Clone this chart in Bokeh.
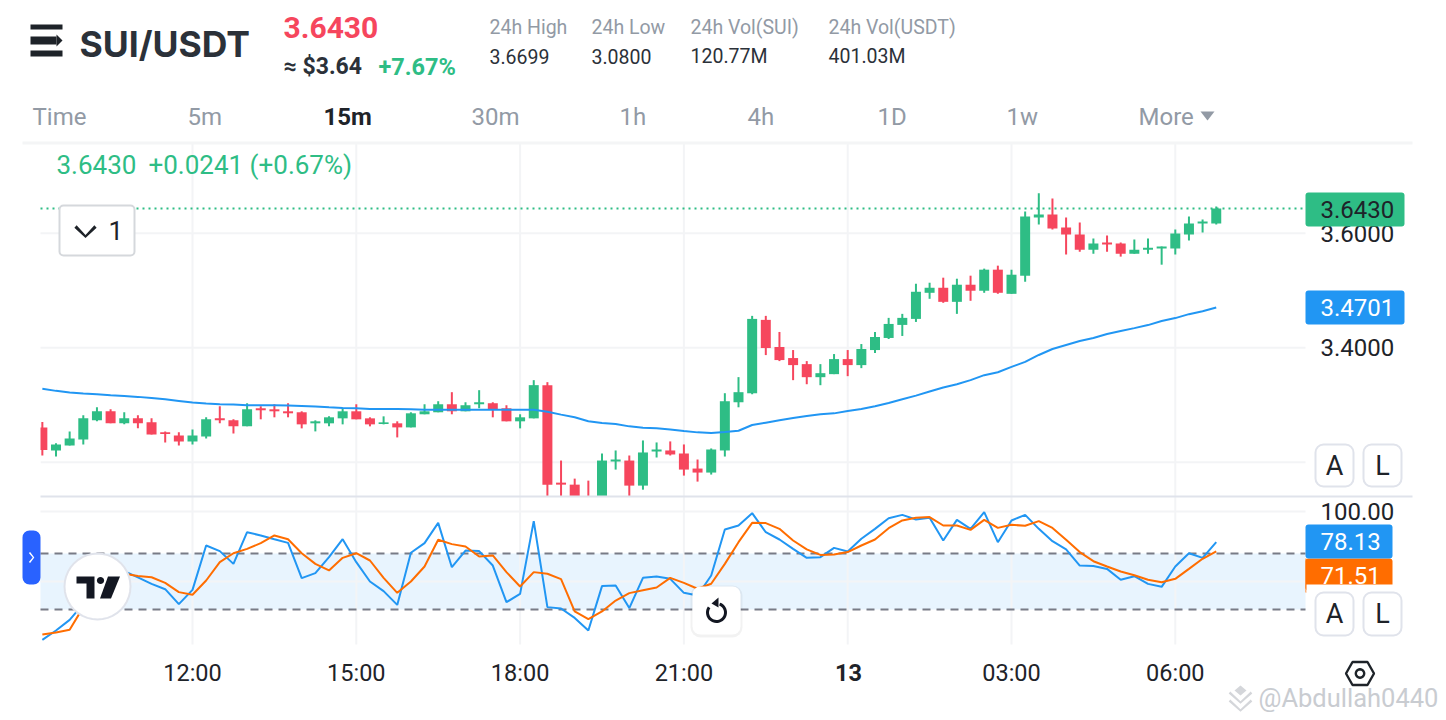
import math
import numpy as np
from bokeh.embed import file_html
from bokeh.resources import INLINE
from bokeh.plotting import figure
from bokeh.models import (BoxAnnotation, ColumnDataSource, FixedTicker, Label,
                          LinearAxis, NumeralTickFormatter, PolyAnnotation, Range1d)

symbol = "SUI/USDT"
last_price = 3.6430
ma_last = 3.4701
k_last = 78.13
d_last = 71.51

opens = [3.2608,3.2205,3.2293,3.2398,3.2731,3.2889,3.2679,3.2766,3.2696,3.2521,3.2468,3.2363,3.2450,3.2766,3.2731,3.2626,3.2942,3.2924,3.2889,3.2872,
         3.2679,3.2679,3.2766,3.2889,3.2766,3.2667,3.2679,3.2608,3.2837,3.2872,3.3012,3.2889,3.3012,3.3030,3.2942,3.2714,3.2766,3.3346,3.1643,3.1608,
         3.1357,3.1269,3.2012,3.2029,3.1591,3.2187,3.2205,3.2152,3.1889,3.1819,3.2205,3.3047,3.3204,3.4486,3.4012,3.3819,3.3713,3.3485,3.3538,3.3801,
         3.3696,3.3959,3.4170,3.4398,3.4503,3.4959,3.5047,3.4801,3.5100,3.4995,3.5363,3.4941,3.5257,3.6275,3.6328,3.6099,3.5977,3.5713,3.5836,3.5819,
         3.5643,3.5713,3.5731,3.5731,3.5977,3.6170,3.6170]
highs = [3.2702,3.2333,3.2538,3.2819,3.2959,3.2924,3.2872,3.2819,3.2766,3.2538,3.2521,3.2573,3.2784,3.2977,3.2749,3.3030,3.2977,3.3012,3.3030,3.2889,
         3.2731,3.2801,3.2942,3.3012,3.2784,3.2801,3.2714,3.2872,3.3012,3.3065,3.3223,3.3047,3.3258,3.3047,3.2995,3.2837,3.3433,3.3398,3.2029,3.1713,
         3.1678,3.2152,3.2205,3.2117,3.2380,3.2345,3.2363,3.2310,3.2047,3.2240,3.3205,3.3486,3.4556,3.4556,3.4275,3.3959,3.3766,3.3713,3.3889,3.3959,
         3.4064,3.4275,3.4521,3.4591,3.5117,3.5135,3.5223,3.5205,3.5258,3.5381,3.5433,3.5362,3.6380,3.6696,3.6608,3.6275,3.6187,3.5906,3.5959,3.5836,
         3.5889,3.5906,3.5766,3.6064,3.6293,3.6240,3.6468]
lows = [3.2117,3.2099,3.2293,3.2310,3.2714,3.2679,3.2661,3.2591,3.2486,3.2345,3.2293,3.2310,3.2415,3.2679,3.2503,3.2626,3.2749,3.2784,3.2784,3.2591,
        3.2538,3.2626,3.2661,3.2749,3.2626,3.2661,3.2433,3.2608,3.2837,3.2872,3.2837,3.2889,3.2942,3.2784,3.2714,3.2591,3.2766,3.1327,3.1298,3.1152,
        3.1152,3.1210,3.1871,3.1269,3.1520,3.2082,3.2117,3.1766,3.1661,3.1784,3.2099,3.2959,3.3187,3.3871,3.3766,3.3433,3.3362,3.3345,3.3538,3.3503,
        3.3643,3.3906,3.4152,3.4205,3.4450,3.4854,3.4784,3.4591,3.4819,3.4959,3.4942,3.4941,3.5152,3.6152,3.6064,3.5626,3.5678,3.5643,3.5678,3.5591,
        3.5643,3.5643,3.5450,3.5626,3.5871,3.6012,3.6152]
closes = [3.2211,3.2310,3.2415,3.2766,3.2889,3.2679,3.2766,3.2679,3.2486,3.2491,3.2363,3.2468,3.2749,3.2731,3.2626,3.2924,3.2907,3.2889,3.2854,3.2661,
          3.2714,3.2784,3.2889,3.2749,3.2661,3.2696,3.2608,3.2854,3.2889,3.3012,3.2889,3.2995,3.3047,3.2924,3.2714,3.2784,3.3346,3.1608,3.1608,3.1210,
          3.1269,3.2029,3.2047,3.1591,3.2170,3.2222,3.2135,3.1871,3.1819,3.2222,3.3065,3.3223,3.4503,3.3994,3.3784,3.3696,3.3485,3.3555,3.3801,3.3696,
          3.3977,3.4187,3.4415,3.4521,3.4977,3.5047,3.4801,3.5100,3.4995,3.5363,3.4959,3.5275,3.6293,3.6328,3.6082,3.5977,3.5713,3.5819,3.5801,3.5643,
          3.5713,3.5748,3.5766,3.5994,3.6170,3.6205,3.6430]
ma_line = [3.3281,3.3246,3.3217,3.3199,3.3188,3.3170,3.3158,3.3141,3.3123,3.3100,3.3071,3.3041,3.3024,3.3012,3.3006,3.2995,3.2995,3.2995,3.2989,3.2983,
           3.2971,3.2959,3.2948,3.2942,3.2930,3.2930,3.2930,3.2924,3.2918,3.2918,3.2918,3.2918,3.2918,3.2918,3.2918,3.2918,3.2918,3.2883,3.2831,3.2784,
           3.2714,3.2684,3.2667,3.2626,3.2603,3.2591,3.2573,3.2544,3.2521,3.2509,3.2527,3.2549,3.2649,3.2690,3.2731,3.2771,3.2807,3.2836,3.2853,3.2894,
           3.2930,3.2976,3.3035,3.3099,3.3163,3.3234,3.3304,3.3362,3.3433,3.3520,3.3572,3.3664,3.3752,3.3873,3.3977,3.4047,3.4117,3.4169,3.4238,3.4290,
           3.4342,3.4395,3.4465,3.4517,3.4586,3.4638,3.4701]
stoch_k = [8.3,15,22.6,34,47,54,57.4,53,48.3,44.5,33.8,44,75.7,71.7,62.6,85.2,82.9,80.2,77.6,52.4,56,67.4,80.2,63.8,50,
           43.1,33.3,70.5,77.4,91.9,60.2,72.1,71.7,61.4,35.2,41.2,93.1,31.7,30.7,24,15,46.7,47.1,31,52.6,53.6,51.9,41.9,40,54.3,
           87.1,90,98.8,85.2,80,73.3,66.9,67.4,74,71.4,80.5,87.6,95.2,97.6,94.3,95.5,79.3,94,87.6,99.5,78.1,93.6,97.6,87.6,78.8,
           72.9,61.4,61,59,51.2,53.8,48.3,46.2,60.7,70.2,66.9,78.13]
stoch_d = [12.1,13.6,15.5,31.7,43.6,52,55.5,54,53,49,42.4,40.5,50.7,63.8,70.2,73.3,77.4,82.9,80.2,70.2,62.6,57.9,66.9,70.2,65,
           52.6,41.9,50,60.7,79.8,76.7,75,67.9,68.6,56.7,46.4,56.7,55.5,51.7,28.6,23.1,28.6,36.4,41.7,43.8,45.7,52.6,49,44.8,48.4,
           62.6,78.1,91.9,91.7,87.6,79.3,72.9,69,69.3,71,75.7,80,88.1,93.6,95.5,96,90,90,86.9,94,88.3,90.5,89.8,93.1,88.3,
           79.8,71,64.5,60.7,57.1,54.5,51.2,49.5,51.9,59,66.2,71.51]
first_bar_hour = 9.25
bar_hours = first_bar_hour + 0.25 * np.arange(len(opens))
tick_hours = [12, 15, 18, 21, 24, 27, 30]
tick_labels = ["12:00", "15:00", "18:00", "21:00", "", "03:00", "06:00"]
day_label = "13"
price_ticks = [3.4, 3.6]
price_grid = [3.2, 3.4, 3.6]
stoch_grid = [50, 100]
stoch_bands = [30, 70]
stats_titles = ["24h High", "24h Low", "24h Vol(SUI)", "24h Vol(USDT)"]
stats_values = ["3.6699", "3.0800", "120.77M", "401.03M"]
intervals = ["Time", "5m", "15m", "30m", "1h", "4h", "1D", "1w", "More"]

GREEN = "#2EBD85"; RED = "#F6465D"; BLUE = "#2196F3"; ORANGE = "#FF6D00"
DARK = "#1E2329"; GRAY = "#929AA5"; GRID = "#F3F4F6"; EDGE = "#E0E3EB"
FONT = "Roboto"

W = 1440; H = 712
PX_PER_HOUR = 54.6
PRICE_PER_PX = 0.2 / 114.5
# the canvas is one frame; these map its pixels onto the chart's axes
X0 = 12 - 192 / PX_PER_HOUR
X1 = 12 + (W - 192) / PX_PER_HOUR
Y_TOP = 3.2 + 461.7 * PRICE_PER_PX
Y_BOT = 3.2 - (H - 461.7) * PRICE_PER_PX
S_TOP = 100 + 511 / 1.4
S_BOT = 100 - (H - 511) / 1.4
hour_at = lambda px: 12 + (px - 192) / PX_PER_HOUR
price_at = lambda py: 3.2 + (461.7 - py) * PRICE_PER_PX
PANEL_L = hour_at(40); PANEL_R = hour_at(1305)
FLOOR = price_at(495.5)

source = ColumnDataSource(dict(
    x=bar_hours,
    high=np.maximum(highs, FLOOR), low=np.maximum(lows, FLOOR),
    top=np.maximum(np.maximum(opens, closes), FLOOR),
    bottom=np.maximum(np.minimum(opens, closes), FLOOR),
    color=[GREEN if c >= o else RED for o, c in zip(opens, closes)],
    ma=ma_line, k=stoch_k, d=stoch_d))

p = figure(width=W, height=H, x_range=Range1d(X0, X1), y_range=Range1d(Y_BOT, Y_TOP),
           x_axis_type=None, y_axis_type=None, output_backend="svg", toolbar_location=None,
           min_border=0, background_fill_color="white", border_fill_color="white",
           outline_line_color=None)
p.extra_y_ranges["stoch"] = Range1d(S_BOT, S_TOP)


def text(s, x, y, size, color=DARK, style="normal", align="left", font=FONT):
    p.add_layout(Label(x=x, y=y, x_units="canvas", y_units="canvas", text=s,
                       text_font=font, text_font_size=f"{size}px", text_color=color,
                       text_font_style=style, text_align=align, text_baseline="middle"))


def box(l, t, r, b, fill="white", line=None, lw=1, radius=0, alpha=1.0):
    p.add_layout(BoxAnnotation(left=l, right=r, top=t, bottom=b,
                               left_units="canvas", right_units="canvas",
                               top_units="canvas", bottom_units="canvas",
                               fill_color=fill, fill_alpha=alpha, line_color=line, line_alpha=1,
                               line_width=lw, border_radius=radius))


def poly(pts, fill, line=None, lw=1):
    p.add_layout(PolyAnnotation(xs=[a for a, _ in pts], ys=[b for _, b in pts],
                                xs_units="canvas", ys_units="canvas",
                                fill_color=fill, fill_alpha=1, line_color=line, line_alpha=1, line_width=lw))


def circle_pts(cx, cy, r, n=40):
    return [(cx + r * math.cos(2 * math.pi * i / n), cy + r * math.sin(2 * math.pi * i / n)) for i in range(n)]


def ring_pts(cx, cy, r, a0, a1, w, n=30):
    angs = [math.radians(a0 + (a1 - a0) * i / n) for i in range(n + 1)]
    out = [(cx + (r + w / 2) * math.cos(a), cy + (r + w / 2) * math.sin(a)) for a in angs]
    inn = [(cx + (r - w / 2) * math.cos(a), cy + (r - w / 2) * math.sin(a)) for a in reversed(angs)]
    return out + inn


def stroke(pts, w):
    left = []; right = []
    for i, (x, y) in enumerate(pts):
        a = pts[max(i - 1, 0)]; b = pts[min(i + 1, len(pts) - 1)]
        dx = b[0] - a[0]; dy = b[1] - a[1]; n = math.hypot(dx, dy)
        ox = -dy / n * w / 2; oy = dx / n * w / 2
        left.append((x + ox, y + oy)); right.append((x - ox, y - oy))
    return left + right[::-1]


# grid lines, limited to the two panels
n_v = len(tick_hours)
p.segment(tick_hours, [price_at(143)] * n_v, tick_hours, [price_at(644)] * n_v, line_color=GRID, line_width=2)
p.segment([PANEL_L] * 3, price_grid, [PANEL_R] * 3, price_grid, line_color=GRID, line_width=2)
p.segment([PANEL_L] * 2, stoch_grid, [PANEL_R] * 2, stoch_grid, y_range_name="stoch", line_color=GRID, line_width=2)
p.add_layout(BoxAnnotation(left=PANEL_L, right=PANEL_R, bottom=stoch_bands[0], top=stoch_bands[1],
                           y_range_name="stoch", fill_color=BLUE, fill_alpha=0.1, line_color=None, level="underlay"))

# main panel
p.segment("x", "high", "x", "low", source=source, line_color="color", line_width=2)
p.vbar(x="x", top="top", bottom="bottom", width=0.183, source=source, fill_color="color", line_color="color", line_width=0)
p.line("x", "ma", source=source, line_color=BLUE, line_width=2)
p.segment([PANEL_L], [last_price], [PANEL_R], [last_price], line_color=GREEN, line_width=2, line_dash="2 4")

ax1 = LinearAxis(ticker=FixedTicker(ticks=price_ticks), fixed_location=PANEL_R,
                 major_tick_line_color=None, minor_tick_line_color=None,
                 axis_line_color=None, major_label_standoff=9, major_label_text_font=FONT,
                 major_label_text_font_size="24px", major_label_text_color=DARK,
                 formatter=NumeralTickFormatter(format="0.0000"))
p.add_layout(ax1, "right")

# oscillator panel
p.segment([PANEL_L] * 2, stoch_bands, [PANEL_R] * 2, stoch_bands, y_range_name="stoch",
          line_color="#787B86", line_width=2, line_dash="8 6")
p.line("x", "k", source=source, y_range_name="stoch", line_color=BLUE, line_width=2)
p.line("x", "d", source=source, y_range_name="stoch", line_color=ORANGE, line_width=2)
ax2 = LinearAxis(y_range_name="stoch", ticker=FixedTicker(ticks=[100]), fixed_location=PANEL_R,
                 major_tick_line_color=None, minor_tick_line_color=None,
                 axis_line_color=None, major_label_standoff=9, major_label_text_font=FONT,
                 major_label_text_font_size="24px", major_label_text_color=DARK,
                 formatter=NumeralTickFormatter(format="0.00"))
p.add_layout(ax2, "right")
axx = LinearAxis(ticker=FixedTicker(ticks=tick_hours), fixed_location=price_at(644),
                 major_tick_line_color=None, minor_tick_line_color=None,
                 axis_line_color=None, major_label_standoff=8, major_label_text_font=FONT,
                 major_label_text_font_size="23.5px", major_label_text_color=DARK,
                 major_label_overrides={h: s for h, s in zip(tick_hours, tick_labels)})
p.add_layout(axx, "below")
text(day_label, 848, 672, 23.5, DARK, "bold", "center")

# left edge of the panel hides what starts before it
box(30, 410, 40, 470, fill="white")

# header
box(22, 141, 1412, 144, fill="#F4F5F6")
for t_, b_ in [(24, 29), (36, 44), (50, 56)]:
    box(30, t_, 56 if t_ == 36 else 62, b_, fill="#1E2329")
poly([(56, 34), (62, 40), (56, 46)], "#1E2329")
text(symbol, 79, 44, 35.5, "#2B3139", "bold", font="Inter")
text(f"{last_price:.4f}", 283, 27, 30, RED, "bold")
text("≈ $3.64", 283, 66, 23, "#2B3139", "bold")
text("+7.67%", 378, 66, 23.5, GREEN, "bold")
for xs, t_, v_ in zip([489, 591, 690, 828], stats_titles, stats_values):
    text(t_, xs, 27, 19.5, GRAY)
    text(v_, xs, 56, 19.5, "#2B3139")
for xs, s_ in zip([32, 187, 323, 471, 619, 747, 877, 1006, 1138], intervals):
    if s_ == "15m":
        text(s_, xs, 116, 24, DARK, "bold")
    else:
        text(s_, xs, 116, 24, GRAY)
poly([(1200, 111), (1214, 111), (1207, 120)], GRAY)
text("3.6430", 56, 164, 26, GREEN)
text("+0.0241 (+0.67%)", 148, 164, 26, GREEN)
box(59, 205, 134, 255, line="#D5D8DC", lw=2, radius=4)
poly(stroke([(75, 226), (85, 236), (95, 226)], 3.2), DARK)
text("1", 108, 230, 26, DARK)
# price tags
box(1305, 192, 1404, 226, fill=GREEN, radius=3)
text(f"{last_price:.4f}", 1320, 209, 24, DARK)
box(1305, 290, 1404, 324, fill=BLUE, radius=3)
text(f"{ma_last:.4f}", 1320, 307, 24, "white")
box(1315, 444, 1353, 486, line=EDGE, lw=2, radius=8)
box(1363, 444, 1401, 486, line=EDGE, lw=2, radius=8)
text("A", 1334, 465, 27, DARK, align="center")
text("L", 1382, 465, 27, DARK, align="center")
box(40, 495, 1412, 497, fill=EDGE)

# oscillator tags
box(1305, 558, 1306, 592, fill=ORANGE)
box(1305, 558, 1392, 590, fill=ORANGE, radius=3)
text(f"{d_last:.2f}", 1320, 575, 24, "white")
box(1306, 584, 1396, 592, fill="white")
box(1305, 524, 1392, 558, fill=BLUE, radius=3)
text(f"{k_last:.2f}", 1320, 541, 24, "white")
box(1315, 592, 1353, 635, line=EDGE, lw=2, radius=8)
box(1363, 592, 1401, 635, line=EDGE, lw=2, radius=8)
text("A", 1334, 613, 27, DARK, align="center")
text("L", 1382, 613, 27, DARK, align="center")
# blue pill
box(22, 530, 40, 584, fill="#2962FF", radius=7)
poly(stroke([(29, 552), (33, 557), (29, 562)], 1.6), "white")
# TV logo
poly(circle_pts(97, 586, 33), "white", EDGE, 2)
poly([(76, 576), (94, 576), (94, 598), (86, 598), (86, 583), (76, 583)], "#131722")
poly(circle_pts(100, 580, 3.6, 16), "#131722")
poly([(107.5, 576), (119.5, 576), (110.5, 598), (99.5, 598)], "#131722")
# reset button
box(690, 585, 742, 637, fill="#000000", radius=10, alpha=0.05)
box(692, 586, 740, 634, fill="white", radius=8)
poly(ring_pts(716, 612, 9, -70, 215, 3), "#131722")
poly([(711, 603), (718, 597), (718, 607)], "#131722")
# hexagon settings icon
poly([(1345.5, 673), (1352, 661.5), (1367, 661.5), (1373.5, 673), (1367, 684.5), (1352, 684.5)], "white", DARK, 2.4)
poly(circle_pts(1359.5, 673, 4.2, 20), "white", DARK, 2.4)
# watermark
for dy in (0, 8):
    poly(stroke([(1229, 692 + dy), (1240, 702 + dy), (1251, 692 + dy)], 2.4), "#D4D6DA")
poly([(1234, 690), (1240, 685), (1246, 690), (1240, 695)], "#D4D6DA")
text("@Abdullah0440", 1258, 697, 25.5, "#C9CCD1")

open("out.html", "w").write(file_html(p, INLINE))
